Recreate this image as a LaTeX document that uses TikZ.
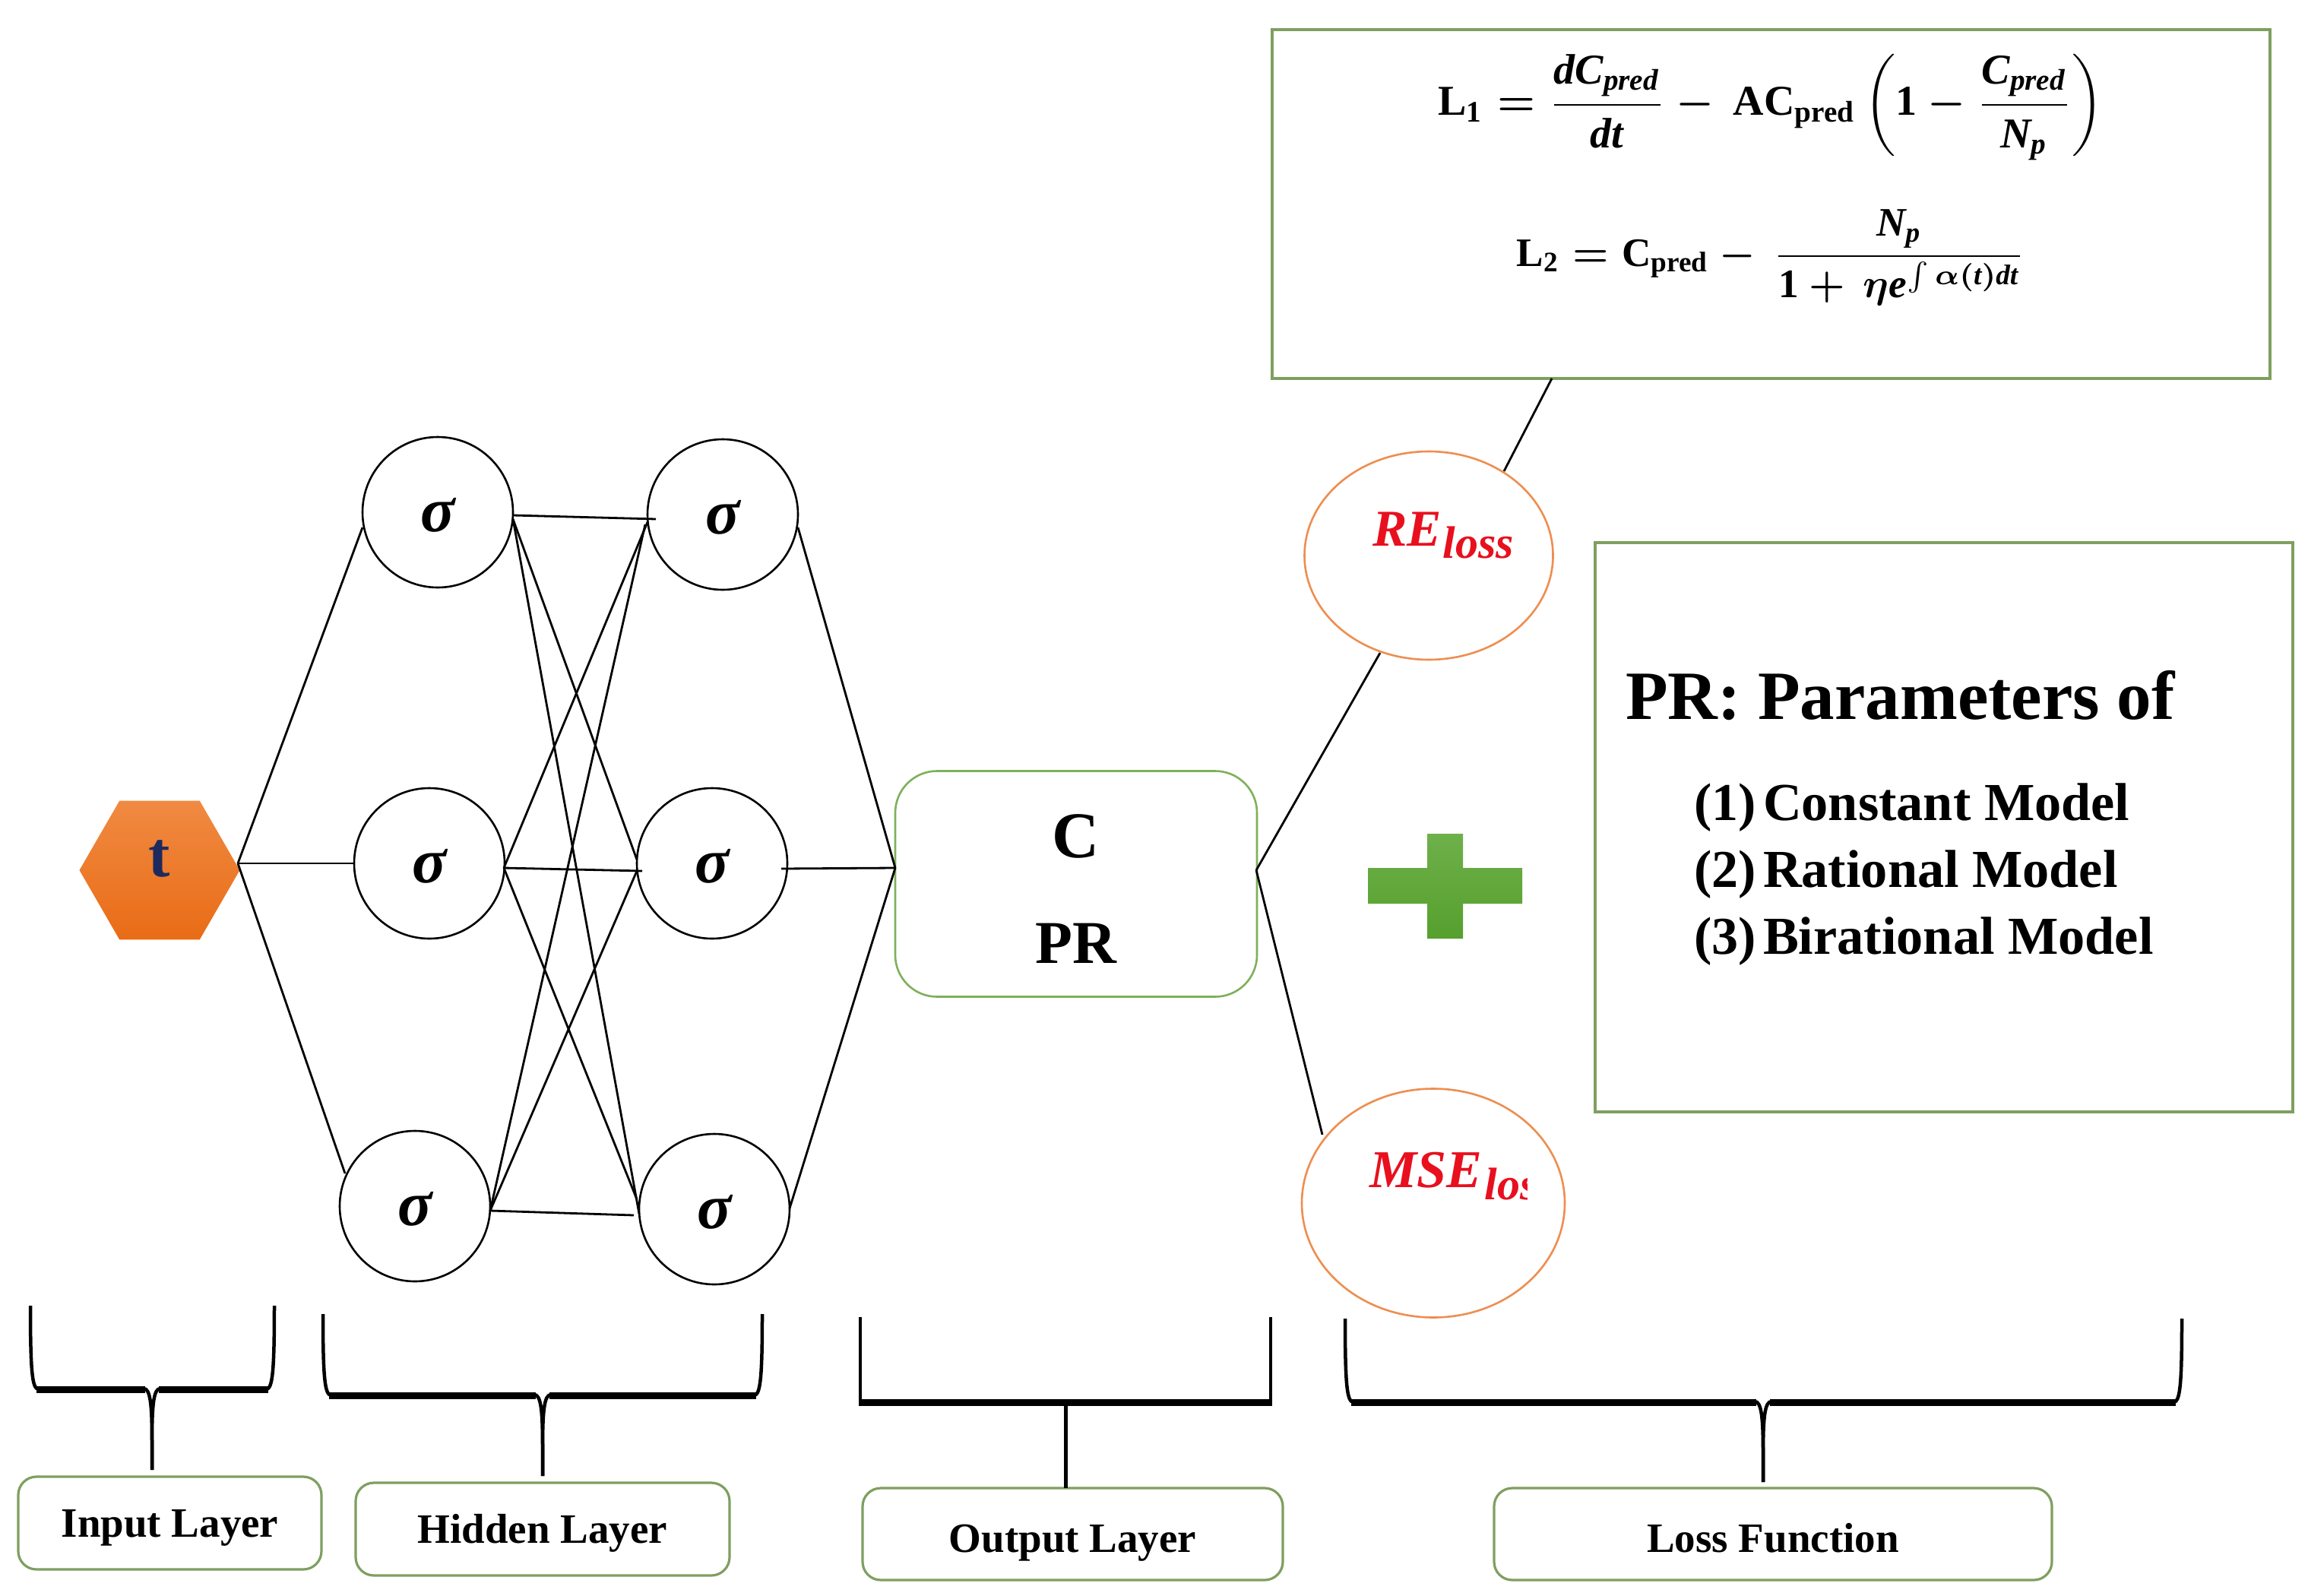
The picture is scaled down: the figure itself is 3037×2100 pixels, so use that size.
\documentclass[tikz,border=0pt]{standalone}
\usepackage{amsmath}
\usepackage{fontspec}
\setmainfont{Liberation Serif}
\usetikzlibrary{shapes.geometric}
\definecolor{boxgreen}{HTML}{7F9F60}
\definecolor{outgreen}{HTML}{7FB05A}
\definecolor{ringorange}{HTML}{EE8E50}
\definecolor{lossred}{HTML}{E8101E}
\definecolor{hextop}{HTML}{F08A42}
\definecolor{hexbot}{HTML}{E96C16}
\definecolor{plustop}{HTML}{6EB04A}
\definecolor{plusbot}{HTML}{56A02E}
\definecolor{hextext}{HTML}{1E2A5E}
\newcommand{\fs}[1]{\fontsize{#1}{#1}\selectfont}
\newcommand{\ti}[1]{\text{\bfseries\itshape #1}}
\newcommand{\tb}[1]{\text{\bfseries #1}}
\newcommand{\mybrace}[6]{%
  \draw[braceline] (#1,#3) .. controls (#1,#4-30) and (#1+2,#4-6) .. (#1+8,#4)
    -- (#5-11,#4) .. controls (#5-2,#4) and (#5,#4+22) .. (#5,#4+70) -- (#5,#6);
  \draw[braceline] (#2,#3) .. controls (#2,#4-30) and (#2-2,#4-6) .. (#2-8,#4)
    -- (#5+11,#4) .. controls (#5+2,#4) and (#5,#4+22) .. (#5,#4+70) -- (#5,#6);
  \draw[line width=9pt] (#1+8,#4+1) -- (#5-9,#4+1) (#5+9,#4+1) -- (#2-8,#4+1);
}
\tikzset{
  neuron/.style={circle,draw=black,line width=2.6pt,minimum size=198pt,inner sep=0pt,outer sep=0pt,
    font=\fs{84}\bfseries\itshape,text height=52pt,text depth=2pt},
  conn/.style={draw=black,line width=2.8pt},
  greenbox/.style={rectangle,draw=boxgreen,line width=3.2pt,inner sep=0pt,outer sep=0pt},
  labelbox/.style={greenbox,rounded corners=24pt,font=\fs{55}\bfseries,text height=#1,text depth=2pt},
  lossring/.style={ellipse,draw=ringorange,line width=2.6pt,inner sep=0pt,outer sep=0pt},
  txt/.style={inner sep=0pt,outer sep=0pt,anchor=base west,font=\bfseries},
  eqn/.style={inner sep=0pt,outer sep=0pt,anchor=base,scale=5.6,font=\mathversion{bold}},
  braceline/.style={draw=black,line width=4.5pt,line join=round},
}
\begin{document}
\begin{tikzpicture}[x=1pt,y=-1pt]
\useasboundingbox (0,0) rectangle (3037,2100);
\fill[white] (0,0) rectangle (3037,2100);

% input hexagon
\node[regular polygon,regular polygon sides=6,minimum size=211pt,inner sep=0pt,outer sep=0pt,
  top color=hextop,bottom color=hexbot,draw=none,
  text=hextext,font=\fs{85}\bfseries,text height=20pt,text depth=4pt] (hex) at (210,1145) {t};

% neurons
\node[neuron] (h11) at (576,674) {σ};
\node[neuron] (h12) at (565,1136) {σ};
\node[neuron] (h13) at (546,1587) {σ};
\node[neuron] (h21) at (951,677) {σ};
\node[neuron] (h22) at (937,1136) {σ};
\node[neuron] (h23) at (940,1591) {σ};

% output box
\node[greenbox,draw=outgreen,line width=2.6pt,rounded corners=55pt,minimum width=476pt,minimum height=297pt] (out) at (1416,1163) {};
\node[inner sep=0pt,font=\fs{86}\bfseries] (outc) at (1416,1100) {C};
\node[inner sep=0pt,font=\fs{80}\bfseries] (outpr) at (1416,1241) {PR};

% loss rings
\node[lossring,minimum width=327pt,minimum height=274pt] (re) at (1880,731) {};
\node[lossring,minimum width=346pt,minimum height=301pt] (mse) at (1886,1583) {};
\node[txt,text=lossred,font=\fs{68}\bfseries\itshape] (retxt) at (1806,718) {RE\kern2pt\raisebox{-16pt}{\fs{60}loss}};
\begin{scope}
  \clip (1780,1480) rectangle (2009,1640);
  \node[txt,text=lossred,font=\fs{70}\bfseries\itshape] (msetxt) at (1802,1562) {MSE\kern4pt\raisebox{-16pt}{\fs{60}loss}};
\end{scope}

% equations box
\node[greenbox,line width=4pt,minimum width=1313pt,minimum height=459pt] (eqbox) at (2330.5,268.5) {};
\node[eqn] (eqa) at (2330,152)
  {$\tb{L}_{\tb{1}} = \dfrac{\ti{d}\ti{C}_{\ti{pred}}}{\ti{dt}} - \,\tb{AC}_{\tb{pred}}\left(\tb{1} - \dfrac{\ti{C}_{\ti{pred}}}{\ti{N}_{\ti{p}}}\right)$};
\node[eqn,scale=0.95] (eqb) at (2330,350)
  {$\tb{L}_{\tb{2}} = \tb{C}_{\tb{pred}} - \,\dfrac{\ti{N}_{\ti{p}}}{\tb{1} + \,\boldsymbol{\eta}\ti{e}^{\int\boldsymbol{\alpha}(\ti{t})\ti{dt}}}$};

% parameters box
\node[greenbox,minimum width=918pt,minimum height=749pt] (prbox) at (2558,1088.5) {};
\node[txt,font=\fs{91}\bfseries] (prhead) at (2139,946) {PR: Parameters of};
\node[txt,font=\fs{70}\bfseries] (n1) at (2229,1079) {(1)};
\node[txt,font=\fs{70}\bfseries] (n2) at (2229,1167) {(2)};
\node[txt,font=\fs{70}\bfseries] (n3) at (2229,1255) {(3)};
\node[txt,font=\fs{70.3}\bfseries] (m1) at (2320,1079) {Constant Model};
\node[txt,font=\fs{70.3}\bfseries] (m2) at (2320,1167) {Rational Model};
\node[txt,font=\fs{70.3}\bfseries] (m3) at (2320,1255) {Birational Model};

% plus sign
\shade[top color=plustop,bottom color=plusbot,draw=none]
  (1878,1097) -- (1925,1097) -- (1925,1142) -- (2003,1142) -- (2003,1189) -- (1925,1189)
  -- (1925,1235) -- (1878,1235) -- (1878,1189) -- (1800,1189) -- (1800,1142) -- (1878,1142) -- cycle;

% named end points
\coordinate (hexp) at (313,1136);
\coordinate (outw) at (1178,1142);
\coordinate (oute) at (1653,1145);
\coordinate (h11w) at (477,694);
\coordinate (h13w) at (454,1544);
\coordinate (h11a) at (675,678);
\coordinate (h11b) at (675,683);
\coordinate (h12a) at (663,1142);
\coordinate (h13a) at (645,1593);
\coordinate (h21a) at (863,683);
\coordinate (h21b) at (852,687);
\coordinate (h21c) at (849,690);
\coordinate (h22a) at (838,1131);
\coordinate (h22b) at (845,1146);
\coordinate (h22c) at (838,1146);
\coordinate (h23a) at (841,1597);
\coordinate (h23b) at (838,1578);
\coordinate (h23c) at (834,1599);
\coordinate (h21e) at (1050,694);
\coordinate (h22e) at (1028,1143);
\coordinate (h23e) at (1039,1590);
\coordinate (res) at (1816,859);
\coordinate (msen) at (1740,1493);
\coordinate (ren) at (1979,620);
\coordinate (eqs) at (2042,498);

% connectors
\draw[conn] (hexp) -- (h11w);
\draw[conn] (hexp) -- (h12.west);
\draw[conn] (hexp) -- (h13w);
\draw[conn] (h11a) -- (h21a);
\draw[conn] (h11b) -- (h22a);
\draw[conn] (h11b) -- (h23a);
\draw[conn] (h12a) -- (h21b);
\draw[conn] (h12a) -- (h22b);
\draw[conn] (h12a) -- (h23b);
\draw[conn] (h13a) -- (h21c);
\draw[conn] (h13a) -- (h22c);
\draw[conn] (h13a) -- (h23c);
\draw[conn] (h21e) -- (outw);
\draw[conn] (h22e) -- (outw);
\draw[conn] (h23e) -- (outw);
\draw[conn] (oute) -- (res);
\draw[conn] (oute) -- (msen);
\draw[conn] (ren) -- (eqs);

% braces
\mybrace{40}{361}{1718}{1827}{200}{1934}
\mybrace{425}{1003}{1729}{1835}{714}{1942}
\mybrace{1770}{2871}{1735}{1844}{2320}{1950}
\draw[braceline] (1132,1733) -- (1132,1846) -- (1672,1846) -- (1672,1733);
\draw[line width=9pt] (1130,1845) -- (1674,1845);

% label boxes
\node[labelbox=38pt,minimum width=399pt,minimum height=122pt] (l1) at (223.5,2004) {Input Layer};
\node[labelbox=38pt,minimum width=492pt,minimum height=122pt] (l2) at (714,2012) {Hidden Layer};
\node[labelbox=49pt,minimum width=553pt,minimum height=121pt] (l3) at (1411.5,2018.5) {Output Layer};
\node[labelbox=49pt,minimum width=734pt,minimum height=121pt] (l4) at (2333,2018.5) {Loss Function};
\coordinate (stem3) at (1402,1846);
\draw[line width=5pt] (stem3) -- (stem3 |- l3.north);
\end{tikzpicture}
\end{document}
